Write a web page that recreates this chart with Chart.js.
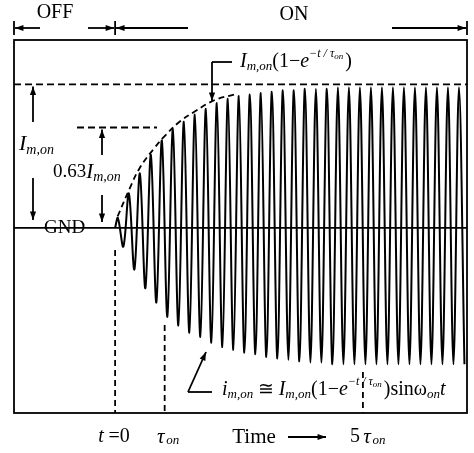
<!DOCTYPE html>
<html><head><meta charset="utf-8">
<script src="https://cdn.jsdelivr.net/npm/chart.js@4"></script>
<style>html,body{margin:0;padding:0;background:#fff}#w{width:474px;height:453px}</style>
</head><body><div id="w"><canvas id="c"></canvas></div>
<script>
// time in units of tau_on, current in units of I_m,on
const cyclePeriod = 0.222;
const peakAmps = [0.07,0.24,0.38,0.51,0.61,0.69,0.74,0.79,0.83,0.87,0.90,0.92,0.93,0.94,0.95,0.96,0.96,0.97,0.97,0.97,0.98,0.98,0.98,0.98,0.98,0.98,0.98,0.98,0.98,0.98,0.98,0.98];
const troughAmps = [0.13,0.29,0.42,0.52,0.62,0.68,0.73,0.76,0.80,0.83,0.85,0.87,0.88,0.90,0.91,0.92,0.93,0.94,0.94,0.95,0.95,0.95,0.95,0.95,0.95,0.95,0.95,0.95,0.95,0.95,0.95,0.95];
const envT = [0.05,0.3,0.5,0.8,1.0,1.3,1.6,2.0,2.4];
const envAmp = [0.08,0.28,0.42,0.56,0.64,0.74,0.81,0.89,0.93];
const xMin = -2.04, xMax = 7.1, yMin = -1.29, yMax = 1.31;

const wave = [{x:0,y:0}];
peakAmps.forEach((p,k)=>{
  wave.push({x:(k+0.25)*cyclePeriod,y:p});
  wave.push({x:(k+0.75)*cyclePeriod,y:-troughAmps[k]});
});
const env = envT.map((t,i)=>({x:t,y:envAmp[i]}));

const deco = {
  id:'deco',
  afterDraw(ch){
    const c=ch.ctx, a=ch.chartArea, X=ch.scales.x, Y=ch.scales.y;
    c.save();
    c.strokeStyle='#000'; c.fillStyle='#000'; c.lineWidth=1.8;
    c.strokeRect(a.left,a.top,a.right-a.left,a.bottom-a.top);
    const line=(x1,y1,x2,y2,d)=>{c.setLineDash(d||[]);c.beginPath();c.moveTo(x1,y1);c.lineTo(x2,y2);c.stroke();c.setLineDash([]);};
    const head=(x,y,ang)=>{c.beginPath();c.moveTo(x,y);c.lineTo(x-9*Math.cos(ang-0.35),y-9*Math.sin(ang-0.35));c.lineTo(x-9*Math.cos(ang+0.35),y-9*Math.sin(ang+0.35));c.closePath();c.fill();};
    const arrow=(x1,y1,x2,y2)=>{line(x1,y1,x2,y2);head(x2,y2,Math.atan2(y2-y1,x2-x1));};
    const x0=X.getPixelForValue(0), xt=X.getPixelForValue(1), x5=X.getPixelForValue(5);
    const yIm=Y.getPixelForValue(1), y0=Y.getPixelForValue(0);
    const ty=28;
    line(a.left,ty-7,a.left,ty+7); arrow(40,ty,a.left+1,ty);
    arrow(88,ty,x0-1,ty); line(x0,ty-7,x0,ty+7); arrow(188,ty,x0+1,ty);
    arrow(392,ty,a.right-1,ty); line(a.right,ty-7,a.right,ty+7);
    c.font='20px "Liberation Serif"'; c.textAlign='center'; c.textBaseline='middle';
    c.fillText('OFF',55,13); c.fillText('ON',294,15);
    line(a.left,yIm,a.right,yIm,[7,4]);
    const y63=Y.getPixelForValue(0.70);
    line(77,y63,157,y63,[7,4]);
    line(x0,250,x0,a.bottom,[6,4]);
    line(xt,325,xt,a.bottom,[6,4]);
    line(x5,372,x5,a.bottom,[6,4]);
    arrow(33,122,33,yIm+2); arrow(33,178,33,y0-8);
    arrow(102,155,102,y63+2); arrow(102,195,102,y0-6);
    const it=(s,x,y,sz)=>{c.font='italic '+sz+'px "Liberation Serif"';c.fillText(s,x,y);return c.measureText(s).width;};
    const rm=(s,x,y,sz)=>{c.font=sz+'px "Liberation Serif"';c.fillText(s,x,y);return c.measureText(s).width;};
    c.textAlign='left';
    let p=19; p+=it('I',p,144,22); it('m,on',p,150,14);
    p=53; p+=rm('0.63',p,172,19); p+=it('I',p,172,21); it('m,on',p,177,14);
    rm('GND',44,228,19);
    line(232,62,212,62); arrow(212,62,212,101);
    p=240; p+=it('I',p,62,20); p+=it('m,on',p,67,13); p+=rm('(1\u2212',p,62,20); p+=it('e',p,62,20);
    p+=it('\u2212t / \u03c4',p,54,12); p+=it('on',p,57,9); rm(')',p+2,62,20);
    line(212,392,188,392); arrow(188,392,206,352);
    p=222; p+=it('i',p,390,20); p+=it('m,on',p,395,13); p+=rm(' \u2245 ',p,390,19); p+=it('I',p,390,20); p+=it('m,on',p,395,13);
    p+=rm('(1\u2212',p,390,20); p+=it('e',p,390,20); p+=it('\u2212t / \u03c4',p,382,12); p+=it('on',p,385,9);
    p+=rm(')sin\u03c9',p+2,390,20)+2; p+=it('on',p,395,13); it('t',p,390,20);
    c.textAlign='center';
    it('t',x0-14,437,20); rm('=0',x0+4,437,20);
    it('\u03c4',xt-4,437,21); it('on',xt+8,441,13);
    rm('Time',254,437,21); arrow(288,437,326,437);
    rm('5',x5-8,437,20); it('\u03c4',x5+4,437,21); it('on',x5+16,441,13);
    c.restore();
  }
};

new Chart(document.getElementById('c'),{
  type:'scatter',
  data:{datasets:[
    {data:[{x:xMin,y:0},{x:xMax,y:0}],showLine:true,borderColor:'#000',borderWidth:1.8,pointRadius:0},
    {data:wave,showLine:true,borderColor:'#000',borderWidth:2,pointRadius:0,tension:0.35},
    {data:env,showLine:true,borderColor:'#000',borderWidth:1.8,borderDash:[6,4],pointRadius:0,tension:0.4}
  ]},
  options:{responsive:true,maintainAspectRatio:false,animation:false,
    layout:{padding:{left:14,top:40,right:7,bottom:40}},
    plugins:{legend:{display:false},tooltip:{enabled:false}},
    scales:{x:{type:'linear',min:xMin,max:xMax,display:false},y:{min:yMin,max:yMax,display:false}}
  },
  plugins:[deco]
});
</script></body></html>
